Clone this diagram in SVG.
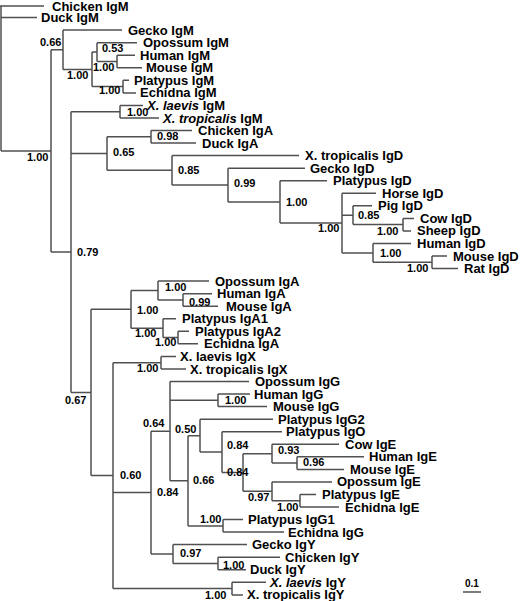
<svg xmlns="http://www.w3.org/2000/svg" width="520" height="601" viewBox="0 0 520 601">
<style>
.br{stroke:#505050;stroke-width:1.5;fill:none}
.lf{font-family:"Liberation Sans",Arial,sans-serif;font-weight:bold;font-size:13px;fill:#000}
.bs{font-family:"Liberation Sans",Arial,sans-serif;font-weight:bold;font-size:11px;fill:#000}
.it{font-style:italic}
</style>
<rect width="520" height="601" fill="#fff"/>
<g id="connectors" class="br">
<path d="M1,6V150.9M0,6H44M1,17.6H37M1,150.9H51"/>
<path d="M51,49.7V252.1M51,49.7H63M51,252.1H71"/>
<path d="M63,30.1V69.4M63,30.1H122M63,69.4H92"/>
<path d="M92,52.1V86.6M92,52.1H97M92,86.6H123"/>
<path d="M97,42.7V61.5M97,42.7H137M97,61.5H117"/>
<path d="M117,55.2V67.8M117,55.2H135M117,67.8H142"/>
<path d="M123,80.3V92.9M123,80.3H129M123,92.9H136"/>
<path d="M71,111.7V392.5M71,111.7H120M71,153.5H107M71,392.5H91"/>
<path d="M120,105.4V118M120,105.4H143M120,118H159"/>
<path d="M107,136.8V170.3M107,136.8H151M107,170.3H172"/>
<path d="M151,130.5V143M151,130.5H192M151,143H196"/>
<path d="M172,155.6V185M172,155.6H299M172,185H228"/>
<path d="M228,168.2V201.9M228,168.2H305M228,201.9H280"/>
<path d="M280,180.7V223.1M280,180.7H327M280,223.1H342"/>
<path d="M342,193.3V252.9M342,193.3H376M342,215.2H353M342,252.9H373"/>
<path d="M353,205.8V224.6M353,205.8H372M353,224.6H403"/>
<path d="M403,218.4V230.9M403,218.4H414M403,230.9H411"/>
<path d="M373,243.4V262.3M373,243.4H411M373,262.3H432"/>
<path d="M432,256V268.6M432,256H447M432,268.6H458"/>
<path d="M91,309.3V475.6M91,309.3H131M91,475.6H113"/>
<path d="M131,290.5V328.2M131,290.5H158M131,328.2H163"/>
<path d="M158,281.1V300M158,281.1H209M158,300H183"/>
<path d="M183,293.7V306.2M183,293.7H212M183,306.2H218"/>
<path d="M163,318.8V337.6M163,318.8H176M163,337.6H178"/>
<path d="M178,331.3V343.8M178,331.3H189M178,343.8H198"/>
<path d="M113,362.7V588.6M113,362.7H161M113,492.6H151M113,588.6H232"/>
<path d="M161,356.4V369M161,356.4H176M161,369H186"/>
<path d="M151,431.2V554.1M151,431.2H170M151,554.1H173"/>
<path d="M170,381.5V480.8M170,381.5H249M170,400.3H218M170,480.8H188"/>
<path d="M218,394V406.6M218,394H250M218,406.6H267"/>
<path d="M188,435.7V525.9M188,435.7H200M188,525.9H223"/>
<path d="M200,419.2V452.1M200,419.2H273M200,452.1H222"/>
<path d="M222,431.7V472.5M222,431.7H282M222,472.5H243"/>
<path d="M243,453.7V491.3M243,453.7H272M243,491.3H272"/>
<path d="M272,444.2V463.1M272,444.2H339M272,463.1H297"/>
<path d="M297,456.8V469.4M297,456.8H364M297,469.4H344"/>
<path d="M272,481.9V500.7M272,481.9H332M272,500.7H300"/>
<path d="M300,494.4V507M300,494.4H316M300,507H339"/>
<path d="M223,519.6V532.1M223,519.6H243M223,532.1H284"/>
<path d="M173,544.6V563.5M173,544.6H247M173,563.5H218"/>
<path d="M218,557.2V569.8M218,557.2H280M218,569.8H246"/>
<path d="M232,582.3V594.9M232,582.3H266M232,594.9H243"/>
</g>
<g id="leaves" class="lf">
<g id="chicken-igm"><text x="52" y="10.5">Chicken IgM</text></g>
<g id="duck-igm"><text x="41" y="22">Duck IgM</text></g>
<g id="gecko-igm"><text x="128" y="34.6">Gecko IgM</text></g>
<g id="opossum-igm"><text x="143" y="47.2">Opossum IgM</text></g>
<g id="human-igm"><text x="140" y="59.7">Human IgM</text></g>
<g id="mouse-igm"><text x="146" y="72.3">Mouse IgM</text></g>
<g id="platypus-igm"><text x="134" y="84.8">Platypus IgM</text></g>
<g id="echidna-igm"><text x="140" y="97.4">Echidna IgM</text></g>
<g id="xlaevis-igm"><text x="147" y="109.9"><tspan class="it">X. laevis</tspan> IgM</text></g>
<g id="xtropicalis-igm"><text x="163" y="122.5"><tspan class="it">X. tropicalis</tspan> IgM</text></g>
<g id="chicken-iga"><text x="198" y="135">Chicken IgA</text></g>
<g id="duck-iga"><text x="202" y="147.5">Duck IgA</text></g>
<g id="xtropicalis-igd"><text x="305" y="160.1">X. tropicalis IgD</text></g>
<g id="gecko-igd"><text x="310" y="172.7">Gecko IgD</text></g>
<g id="platypus-igd"><text x="333" y="185.2">Platypus IgD</text></g>
<g id="horse-igd"><text x="382" y="197.8">Horse IgD</text></g>
<g id="pig-igd"><text x="378" y="210.3">Pig IgD</text></g>
<g id="cow-igd"><text x="420" y="222.9">Cow IgD</text></g>
<g id="sheep-igd"><text x="417" y="235.4">Sheep IgD</text></g>
<g id="human-igd"><text x="417" y="247.9">Human IgD</text></g>
<g id="mouse-igd"><text x="453" y="260.5">Mouse IgD</text></g>
<g id="rat-igd"><text x="464" y="273.1">Rat IgD</text></g>
<g id="opossum-iga"><text x="215" y="285.6">Opossum IgA</text></g>
<g id="human-iga"><text x="217" y="298.2">Human IgA</text></g>
<g id="mouse-iga"><text x="226" y="310.7">Mouse IgA</text></g>
<g id="platypus-iga1"><text x="182" y="323.3">Platypus IgA1</text></g>
<g id="platypus-iga2"><text x="195" y="335.8">Platypus IgA2</text></g>
<g id="echidna-iga"><text x="204" y="348.3">Echidna IgA</text></g>
<g id="xlaevis-igx"><text x="180" y="360.9">X. laevis IgX</text></g>
<g id="xtropicalis-igx"><text x="190" y="373.5">X. tropicalis IgX</text></g>
<g id="opossum-igg"><text x="255" y="386">Opossum IgG</text></g>
<g id="human-igg"><text x="254" y="398.5">Human IgG</text></g>
<g id="mouse-igg"><text x="273" y="411.1">Mouse IgG</text></g>
<g id="platypus-igg2"><text x="278" y="423.7">Platypus IgG2</text></g>
<g id="platypus-igo"><text x="286" y="436.2">Platypus IgO</text></g>
<g id="cow-ige"><text x="345" y="448.7">Cow IgE</text></g>
<g id="human-ige"><text x="369" y="461.3">Human IgE</text></g>
<g id="mouse-ige"><text x="350" y="473.9">Mouse IgE</text></g>
<g id="opossum-ige"><text x="337" y="486.4">Opossum IgE</text></g>
<g id="platypus-ige"><text x="322" y="498.9">Platypus IgE</text></g>
<g id="echidna-ige"><text x="345" y="511.5">Echidna IgE</text></g>
<g id="platypus-igg1"><text x="248" y="524.1">Platypus IgG1</text></g>
<g id="echidna-igg"><text x="288" y="536.6">Echidna IgG</text></g>
<g id="gecko-igy"><text x="252" y="549.1">Gecko IgY</text></g>
<g id="chicken-igy"><text x="285" y="561.7">Chicken IgY</text></g>
<g id="duck-igy"><text x="250" y="574.3">Duck IgY</text></g>
<g id="xlaevis-igy"><text x="270" y="586.8"><tspan class="it">X. laevis</tspan> IgY</text></g>
<g id="xtropicalis-igy"><text x="247" y="599.4">X. tropicalis IgY</text></g>
</g>
<g id="support" class="bs">
<g id="n-root"><text x="27" y="161">1.00</text></g>
<g id="n-B"><text x="40" y="46">0.66</text></g>
<g id="n-D"><text x="102" y="52">0.53</text></g>
<g id="n-E"><text x="93" y="71">1.00</text></g>
<g id="n-C"><text x="67" y="79">1.00</text></g>
<g id="n-F"><text x="99" y="94">1.00</text></g>
<g id="n-I"><text x="127" y="116">1.00</text></g>
<g id="n-CA"><text x="157" y="140">0.98</text></g>
<g id="n-J"><text x="113" y="156">0.65</text></g>
<g id="n-K"><text x="178" y="174">0.85</text></g>
<g id="n-L"><text x="234" y="187">0.99</text></g>
<g id="n-M"><text x="286" y="206">1.00</text></g>
<g id="n-N"><text x="318" y="232">1.00</text></g>
<g id="n-O"><text x="358" y="219">0.85</text></g>
<g id="n-P"><text x="377" y="235">1.00</text></g>
<g id="n-Q"><text x="380" y="257">1.00</text></g>
<g id="n-R"><text x="407" y="272">1.00</text></g>
<g id="n-G"><text x="77" y="256">0.79</text></g>
<g id="n-T"><text x="165" y="291">1.00</text></g>
<g id="n-U"><text x="189" y="306">0.99</text></g>
<g id="n-S"><text x="137" y="314">1.00</text></g>
<g id="n-V"><text x="135" y="337">1.00</text></g>
<g id="n-W"><text x="155" y="346">1.00</text></g>
<g id="n-Y"><text x="137" y="372">1.00</text></g>
<g id="n-H"><text x="65" y="404">0.67</text></g>
<g id="n-Z"><text x="120" y="479">0.60</text></g>
<g id="n-AA2"><text x="143" y="427">0.64</text></g>
<g id="n-AB"><text x="175" y="433">0.50</text></g>
<g id="n-AC"><text x="225" y="404">1.00</text></g>
<g id="n-AK"><text x="227" y="449">0.84</text></g>
<g id="n-AM"><text x="278" y="454">0.93</text></g>
<g id="n-AO"><text x="303" y="466">0.96</text></g>
<g id="n-AL"><text x="227" y="476">0.84</text></g>
<g id="n-AQ"><text x="193" y="484">0.66</text></g>
<g id="n-AA"><text x="157" y="496">0.84</text></g>
<g id="n-AN"><text x="248" y="501">0.97</text></g>
<g id="n-AP"><text x="277" y="511">1.00</text></g>
<g id="n-AR"><text x="200" y="523">1.00</text></g>
<g id="n-AE"><text x="180" y="557">0.97</text></g>
<g id="n-AS"><text x="223" y="569">1.00</text></g>
<g id="n-AT"><text x="205" y="599">1.00</text></g>
</g>
<g id="scale-bar">
<path class="br" d="M463,592H481"/>
<text class="bs" x="465" y="587" style="font-size:10px">0.1</text>
</g>
</svg>
